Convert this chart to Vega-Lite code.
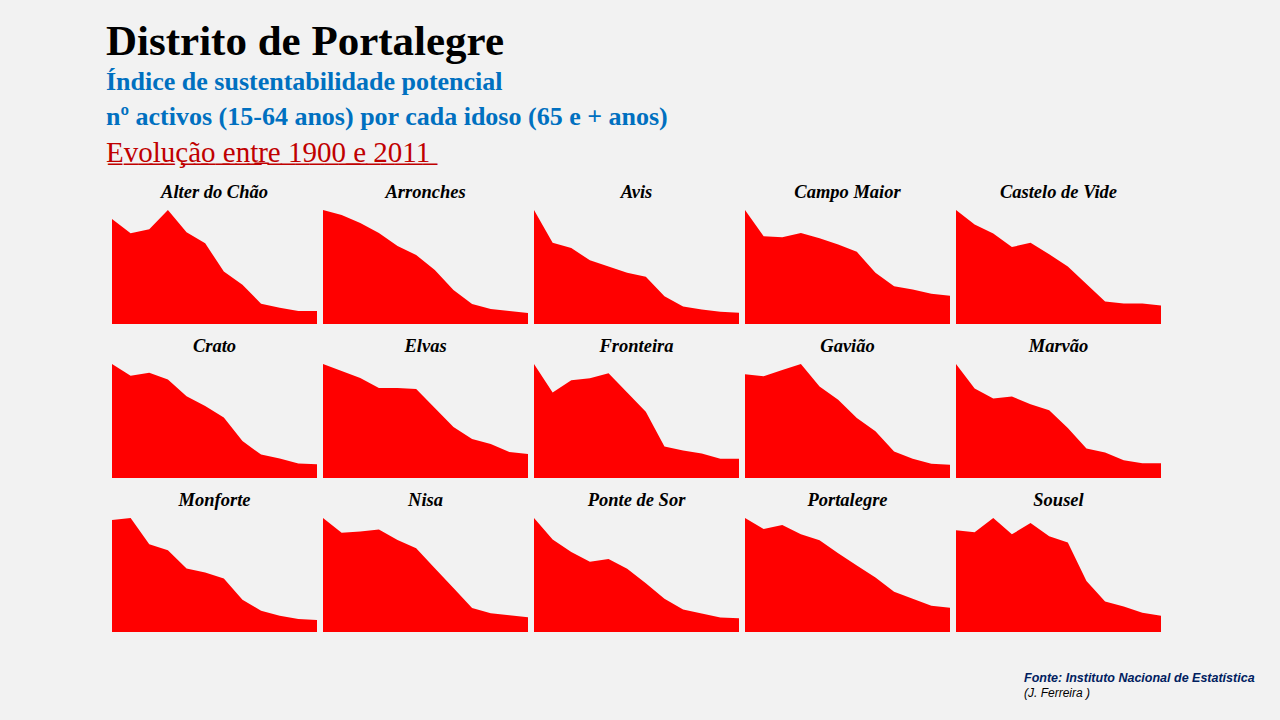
{
  "$schema": "https://vega.github.io/schema/vega-lite/v6.json",
  "background": "#f2f2f2",
  "padding": {"left": 106, "top": 20, "right": 25, "bottom": 21},
  "autosize": {"type": "pad"},
  "config": {"view": {"stroke": null}},
  "data": {"values": [
    {"m":"Alter do Chão","a":"1900","v":10.4},{"m":"Alter do Chão","a":"1911","v":9.0},{"m":"Alter do Chão","a":"1920","v":9.4},{"m":"Alter do Chão","a":"1930","v":11.3},{"m":"Alter do Chão","a":"1940","v":9.1},{"m":"Alter do Chão","a":"1950","v":8.0},{"m":"Alter do Chão","a":"1960","v":5.2},{"m":"Alter do Chão","a":"1970","v":3.9},{"m":"Alter do Chão","a":"1981","v":2.0},{"m":"Alter do Chão","a":"1991","v":1.6},{"m":"Alter do Chão","a":"2001","v":1.3},{"m":"Alter do Chão","a":"2011","v":1.3},
    {"m":"Arronches","a":"1900","v":11.4},{"m":"Arronches","a":"1911","v":10.9},{"m":"Arronches","a":"1920","v":10.1},{"m":"Arronches","a":"1930","v":9.1},{"m":"Arronches","a":"1940","v":7.8},{"m":"Arronches","a":"1950","v":6.9},{"m":"Arronches","a":"1960","v":5.4},{"m":"Arronches","a":"1970","v":3.4},{"m":"Arronches","a":"1981","v":2.0},{"m":"Arronches","a":"1991","v":1.5},{"m":"Arronches","a":"2001","v":1.3},{"m":"Arronches","a":"2011","v":1.1},
    {"m":"Avis","a":"1900","v":11.1},{"m":"Avis","a":"1911","v":7.9},{"m":"Avis","a":"1920","v":7.4},{"m":"Avis","a":"1930","v":6.2},{"m":"Avis","a":"1940","v":5.6},{"m":"Avis","a":"1950","v":5.0},{"m":"Avis","a":"1960","v":4.6},{"m":"Avis","a":"1970","v":2.7},{"m":"Avis","a":"1981","v":1.7},{"m":"Avis","a":"1991","v":1.4},{"m":"Avis","a":"2001","v":1.2},{"m":"Avis","a":"2011","v":1.1},
    {"m":"Campo Maior","a":"1900","v":10.9},{"m":"Campo Maior","a":"1911","v":8.4},{"m":"Campo Maior","a":"1920","v":8.3},{"m":"Campo Maior","a":"1930","v":8.7},{"m":"Campo Maior","a":"1940","v":8.2},{"m":"Campo Maior","a":"1950","v":7.6},{"m":"Campo Maior","a":"1960","v":6.9},{"m":"Campo Maior","a":"1970","v":4.9},{"m":"Campo Maior","a":"1981","v":3.6},{"m":"Campo Maior","a":"1991","v":3.3},{"m":"Campo Maior","a":"2001","v":2.9},{"m":"Campo Maior","a":"2011","v":2.7},
    {"m":"Castelo de Vide","a":"1900","v":11.1},{"m":"Castelo de Vide","a":"1911","v":9.7},{"m":"Castelo de Vide","a":"1920","v":8.8},{"m":"Castelo de Vide","a":"1930","v":7.5},{"m":"Castelo de Vide","a":"1940","v":7.9},{"m":"Castelo de Vide","a":"1950","v":6.8},{"m":"Castelo de Vide","a":"1960","v":5.6},{"m":"Castelo de Vide","a":"1970","v":3.9},{"m":"Castelo de Vide","a":"1981","v":2.2},{"m":"Castelo de Vide","a":"1991","v":2.0},{"m":"Castelo de Vide","a":"2001","v":2.0},{"m":"Castelo de Vide","a":"2011","v":1.8},
    {"m":"Crato","a":"1900","v":11.7},{"m":"Crato","a":"1911","v":10.5},{"m":"Crato","a":"1920","v":10.8},{"m":"Crato","a":"1930","v":10.1},{"m":"Crato","a":"1940","v":8.4},{"m":"Crato","a":"1950","v":7.4},{"m":"Crato","a":"1960","v":6.2},{"m":"Crato","a":"1970","v":3.8},{"m":"Crato","a":"1981","v":2.4},{"m":"Crato","a":"1991","v":2.0},{"m":"Crato","a":"2001","v":1.5},{"m":"Crato","a":"2011","v":1.4},
    {"m":"Elvas","a":"1900","v":11.4},{"m":"Elvas","a":"1911","v":10.7},{"m":"Elvas","a":"1920","v":10.0},{"m":"Elvas","a":"1930","v":9.0},{"m":"Elvas","a":"1940","v":9.0},{"m":"Elvas","a":"1950","v":8.9},{"m":"Elvas","a":"1960","v":7.0},{"m":"Elvas","a":"1970","v":5.1},{"m":"Elvas","a":"1981","v":3.9},{"m":"Elvas","a":"1991","v":3.4},{"m":"Elvas","a":"2001","v":2.6},{"m":"Elvas","a":"2011","v":2.4},
    {"m":"Fronteira","a":"1900","v":11.2},{"m":"Fronteira","a":"1911","v":8.4},{"m":"Fronteira","a":"1920","v":9.6},{"m":"Fronteira","a":"1930","v":9.8},{"m":"Fronteira","a":"1940","v":10.3},{"m":"Fronteira","a":"1950","v":8.4},{"m":"Fronteira","a":"1960","v":6.5},{"m":"Fronteira","a":"1970","v":3.1},{"m":"Fronteira","a":"1981","v":2.7},{"m":"Fronteira","a":"1991","v":2.4},{"m":"Fronteira","a":"2001","v":1.9},{"m":"Fronteira","a":"2011","v":1.9},
    {"m":"Gavião","a":"1900","v":10.2},{"m":"Gavião","a":"1911","v":10.0},{"m":"Gavião","a":"1920","v":10.6},{"m":"Gavião","a":"1930","v":11.2},{"m":"Gavião","a":"1940","v":9.0},{"m":"Gavião","a":"1950","v":7.7},{"m":"Gavião","a":"1960","v":5.9},{"m":"Gavião","a":"1970","v":4.6},{"m":"Gavião","a":"1981","v":2.6},{"m":"Gavião","a":"1991","v":1.9},{"m":"Gavião","a":"2001","v":1.4},{"m":"Gavião","a":"2011","v":1.3},
    {"m":"Marvão","a":"1900","v":11.6},{"m":"Marvão","a":"1911","v":9.1},{"m":"Marvão","a":"1920","v":8.1},{"m":"Marvão","a":"1930","v":8.3},{"m":"Marvão","a":"1940","v":7.5},{"m":"Marvão","a":"1950","v":6.9},{"m":"Marvão","a":"1960","v":5.1},{"m":"Marvão","a":"1970","v":3.0},{"m":"Marvão","a":"1981","v":2.6},{"m":"Marvão","a":"1991","v":1.8},{"m":"Marvão","a":"2001","v":1.5},{"m":"Marvão","a":"2011","v":1.5},
    {"m":"Monforte","a":"1900","v":11.1},{"m":"Monforte","a":"1911","v":11.3},{"m":"Monforte","a":"1920","v":8.7},{"m":"Monforte","a":"1930","v":8.1},{"m":"Monforte","a":"1940","v":6.3},{"m":"Monforte","a":"1950","v":5.9},{"m":"Monforte","a":"1960","v":5.3},{"m":"Monforte","a":"1970","v":3.2},{"m":"Monforte","a":"1981","v":2.1},{"m":"Monforte","a":"1991","v":1.6},{"m":"Monforte","a":"2001","v":1.3},{"m":"Monforte","a":"2011","v":1.2},
    {"m":"Nisa","a":"1900","v":10.9},{"m":"Nisa","a":"1911","v":9.5},{"m":"Nisa","a":"1920","v":9.6},{"m":"Nisa","a":"1930","v":9.8},{"m":"Nisa","a":"1940","v":8.8},{"m":"Nisa","a":"1950","v":8.0},{"m":"Nisa","a":"1960","v":6.1},{"m":"Nisa","a":"1970","v":4.2},{"m":"Nisa","a":"1981","v":2.3},{"m":"Nisa","a":"1991","v":1.8},{"m":"Nisa","a":"2001","v":1.6},{"m":"Nisa","a":"2011","v":1.4},
    {"m":"Ponte de Sor","a":"1900","v":11.7},{"m":"Ponte de Sor","a":"1911","v":9.5},{"m":"Ponte de Sor","a":"1920","v":8.2},{"m":"Ponte de Sor","a":"1930","v":7.2},{"m":"Ponte de Sor","a":"1940","v":7.5},{"m":"Ponte de Sor","a":"1950","v":6.5},{"m":"Ponte de Sor","a":"1960","v":5.0},{"m":"Ponte de Sor","a":"1970","v":3.4},{"m":"Ponte de Sor","a":"1981","v":2.3},{"m":"Ponte de Sor","a":"1991","v":1.9},{"m":"Ponte de Sor","a":"2001","v":1.5},{"m":"Ponte de Sor","a":"2011","v":1.4},
    {"m":"Portalegre","a":"1900","v":11.3},{"m":"Portalegre","a":"1911","v":10.2},{"m":"Portalegre","a":"1920","v":10.6},{"m":"Portalegre","a":"1930","v":9.7},{"m":"Portalegre","a":"1940","v":9.1},{"m":"Portalegre","a":"1950","v":7.8},{"m":"Portalegre","a":"1960","v":6.6},{"m":"Portalegre","a":"1970","v":5.4},{"m":"Portalegre","a":"1981","v":4.0},{"m":"Portalegre","a":"1991","v":3.3},{"m":"Portalegre","a":"2001","v":2.6},{"m":"Portalegre","a":"2011","v":2.4},
    {"m":"Sousel","a":"1900","v":10.0},{"m":"Sousel","a":"1911","v":9.8},{"m":"Sousel","a":"1920","v":11.2},{"m":"Sousel","a":"1930","v":9.6},{"m":"Sousel","a":"1940","v":10.7},{"m":"Sousel","a":"1950","v":9.4},{"m":"Sousel","a":"1960","v":8.8},{"m":"Sousel","a":"1970","v":5.0},{"m":"Sousel","a":"1981","v":3.0},{"m":"Sousel","a":"1991","v":2.5},{"m":"Sousel","a":"2001","v":1.9},{"m":"Sousel","a":"2011","v":1.6}
  ]},
  "title": {
    "text": "Distrito de Portalegre",
    "subtitle": ["Índice de sustentabilidade potencial", "nº activos (15-64 anos) por cada idoso (65 e + anos)"],
    "anchor": "start",
    "dx": 0,
    "font": "Liberation Serif",
    "fontSize": 43,
    "fontWeight": "bold",
    "color": "#000000",
    "subtitleFont": "Liberation Serif",
    "subtitleFontSize": 26,
    "subtitleFontWeight": "bold",
    "subtitleColor": "#0070C0",
    "subtitleLineHeight": 35,
    "subtitlePadding": 5,
    "offset": 9
  },
  "vconcat": [
    {
      "title": {
        "text": "Fonte: Instituto Nacional de Estatística",
        "subtitle": "(J. Ferreira )",
        "orient": "bottom",
        "anchor": "end",
        "align": "left",
        "dx": -137,
        "offset": 40,
        "font": "Liberation Sans",
        "fontSize": 12.5,
        "fontStyle": "italic",
        "fontWeight": "bold",
        "color": "#002060",
        "subtitleFont": "Liberation Sans",
        "subtitleFontSize": 12,
        "subtitleFontStyle": "italic",
        "subtitleColor": "#000000",
        "subtitlePadding": 3
      },
      "vconcat": [
        {
          "title": {
            "text": "E̲v̲o̲l̲u̲ç̲ã̲o̲ ̲e̲n̲t̲r̲e̲ ̲1̲9̲0̲0̲ ̲e̲ ̲2̲0̲1̲1̲",
            "anchor": "start",
            "dx": -6,
            "offset": 15,
            "font": "Liberation Serif",
            "fontSize": 29,
            "fontWeight": "normal",
            "color": "#C00000"
          },
          "facet": {
            "field": "m",
            "type": "nominal",
            "title": null,
            "sort": ["Alter do Chão","Arronches","Avis","Campo Maior","Castelo de Vide","Crato","Elvas","Fronteira","Gavião","Marvão","Monforte","Nisa","Ponte de Sor","Portalegre","Sousel"],
            "header": {
              "labelFont": "Liberation Serif",
              "labelFontSize": 18.5,
              "labelFontStyle": "italic",
              "labelFontWeight": "bold",
              "labelColor": "#000000",
              "labelPadding": 9
            }
          },
          "columns": 5,
          "spacing": {"row": 12, "column": 6},
          "resolve": {"scale": {"y": "independent"}},
          "spec": {
            "width": 205,
            "height": 114,
            "mark": {"type": "area", "color": "#ff0000", "opacity": 1},
            "encoding": {
              "x": {"field": "a", "type": "ordinal", "scale": {"type": "point", "padding": 0}, "axis": null},
              "y": {"field": "v", "type": "quantitative", "scale": {"zero": true, "nice": false}, "axis": null}
            }
          }
        }
      ]
    }
  ]
}
